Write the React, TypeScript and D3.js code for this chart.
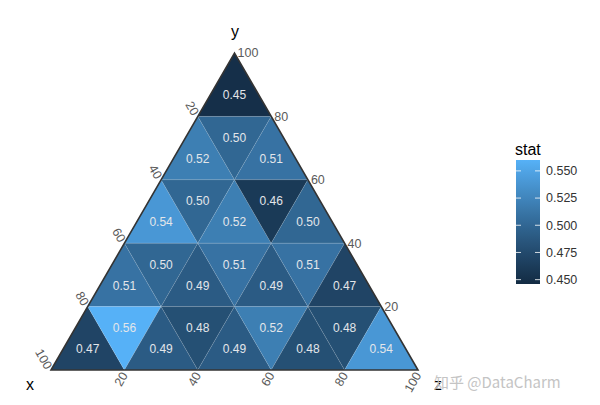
import * as d3 from 'd3'

// stat per row of the ternary grid, top row first, read left to right
// (up, down, up, down, ...)
const row1 = [0.45]
const row2 = [0.52, 0.5, 0.51]
const row3 = [0.54, 0.5, 0.52, 0.46, 0.5]
const row4 = [0.51, 0.5, 0.49, 0.51, 0.49, 0.51, 0.47]
const row5 = [0.47, 0.56, 0.49, 0.48, 0.49, 0.52, 0.48, 0.48, 0.54]
const rows = [row1, row2, row3, row4, row5]

const axisTicks = [20, 40, 60, 80, 100]
const legendTicks = [0.45, 0.475, 0.5, 0.525, 0.55]
const statRange = [0.446, 0.56]

const W = 600
const H = 405
const font = '"Liberation Sans", Arial, sans-serif'

// cartesian mapping of ternary coords
const baseX = d3.scaleLinear().domain([0, 100]).range([51, 418])
const heightY = d3.scaleLinear().domain([0, 100]).range([370, 53])
const pt = (y: number, z: number): [number, number] => [baseX(z + y / 2), heightY(y)]

const color = d3.scaleLinear<string>()
  .domain(statRange)
  .range(['#132B43', '#56B1F7'])
  .interpolate(d3.interpolateLab)

const legendY = d3.scaleLinear().domain(statRange).range([284, 160])

interface Cell { pts: [number, number][]; value: number; up: boolean }

const cells: Cell[] = []
rows.forEach((vals, r) => {
  const step = 100 / rows.length
  const yb = 100 - step * (r + 1)
  const yt = yb + step
  vals.forEach((v, i) => {
    const k = Math.floor(i / 2)
    if (i % 2 === 0) {
      cells.push({ value: v, up: true, pts: [pt(yb, step * k), pt(yb, step * (k + 1)), pt(yt, step * k)] })
    } else {
      cells.push({ value: v, up: false, pts: [pt(yt, step * k), pt(yt, step * (k + 1)), pt(yb, step * (k + 1))] })
    }
  })
})

const line = d3.line()

export default function App() {
  const gradStops = d3.range(0, 1.0001, 0.05)
  return (
    <svg width={W} height={H} style={{ position: 'absolute', left: 0, top: 0, background: '#fff' }} fontFamily={font}>
      <defs>
        <linearGradient id="bar" x1="0" y1="1" x2="0" y2="0">
          {gradStops.map(t => (
            <stop key={t} offset={t} stopColor={color(statRange[0] + t * (statRange[1] - statRange[0]))} />
          ))}
        </linearGradient>
      </defs>

      {cells.map((c, i) => {
        const cx = d3.mean(c.pts, p => p[0])!
        const cy = d3.mean(c.pts, p => p[1])!
        return (
          <g key={i}>
            <path d={line(c.pts)! + 'Z'} fill={color(c.value)} stroke="#ffffff" strokeOpacity={0.12} strokeWidth={0.8} />
            <text x={cx} y={cy} dy="0.35em" textAnchor="middle" fontSize={12} fill="#e3e6ea">
              {c.value.toFixed(2)}
            </text>
          </g>
        )
      })}

      <path d={line([pt(0, 0), pt(0, 100), pt(100, 0)])! + 'Z'} fill="none" stroke="#333" strokeWidth={1.6} />

      {/* left edge: x */}
      {axisTicks.map(t => {
        const [px, py] = pt(100 - t, 0)
        return (
          <text key={'x' + t} transform={`translate(${px - 2},${py - 2}) rotate(60)`} textAnchor="end" dy="0.35em"
            fontSize={12.5} fill="#5a5a5a">{t}</text>
        )
      })}
      {/* right edge: y */}
      {axisTicks.map(t => {
        const [px, py] = pt(t, 100 - t)
        return (
          <text key={'y' + t} x={px + 3} y={py} dy="0.35em" fontSize={12.5} fill="#5a5a5a">{t}</text>
        )
      })}
      {/* bottom edge: z */}
      {axisTicks.map(t => {
        const [px, py] = pt(0, t)
        return (
          <text key={'z' + t} transform={`translate(${px},${py + 3}) rotate(-60)`} textAnchor="end" dy="0.35em"
            fontSize={12.5} fill="#5a5a5a">{t}</text>
        )
      })}

      <text x={30} y={390} textAnchor="middle" fontSize={16} fill="#000">x</text>
      <text x={235} y={37} textAnchor="middle" fontSize={16} fill="#000">y</text>
      <text x={438} y={390} textAnchor="middle" fontSize={16} fill="#000">z</text>

      {/* legend */}
      <text x={515} y={155} fontSize={16} fill="#000">stat</text>
      <rect x={516} y={160} width={24} height={124} fill="url(#bar)" />
      {legendTicks.map(t => (
        <g key={t}>
          <line x1={516} x2={521} y1={legendY(t)} y2={legendY(t)} stroke="#fff" strokeWidth={0.8} />
          <line x1={535} x2={540} y1={legendY(t)} y2={legendY(t)} stroke="#fff" strokeWidth={0.8} />
          <text x={546} y={legendY(t)} dy="0.35em" fontSize={12.5} fill="#333">{d3.format('.3f')(t)}</text>
        </g>
      ))}

      <text x={434} y={388} fontSize={15} fill="#c4c4c4" fontFamily={'"Noto Sans CJK SC", ' + font}>知乎 @DataCharm</text>
    </svg>
  )
}
